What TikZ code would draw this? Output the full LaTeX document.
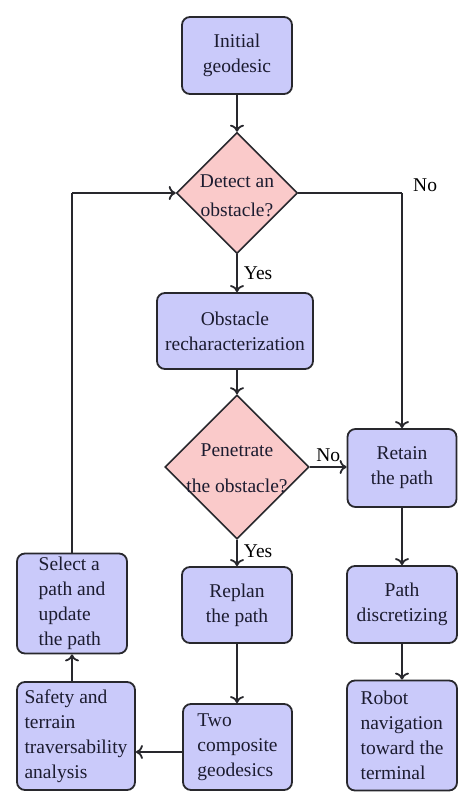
\documentclass[tikz,border=0pt]{standalone}
\usepackage{fontspec}
\newfontfamily\diagfont{Liberation Serif}
\usetikzlibrary{shapes.geometric,arrows.meta}
\definecolor{boxfill}{RGB}{202,202,250}
\definecolor{decfill}{RGB}{250,202,202}
\definecolor{edge}{RGB}{40,40,45}
\definecolor{txt}{RGB}{28,28,48}
\tikzset{
  every node/.style={font=\diagfont\fontsize{19.5}{25}\selectfont, text=txt},
  procbox/.style={draw=edge, line width=1.8pt, fill=boxfill, rounded corners=8pt, inner sep=0pt},
  decbox/.style={draw=edge, line width=1.6pt, fill=decfill, diamond, inner sep=0pt},
  conn/.style={draw=edge, line width=1.8pt, -{To[length=7pt,width=14pt]}},
  plain/.style={draw=edge, line width=1.8pt},
  lbl/.style={text=black, inner sep=0pt}
}
\begin{document}
\begin{tikzpicture}[x=1pt,y=-1pt]
\useasboundingbox (0,0) rectangle (474,808);
\node[procbox, minimum width=110pt, minimum height=77pt, align=center] (init) at (237,55.5) {Initial\\geodesic};
\node[decbox, minimum width=121pt, minimum height=121pt] (det) at (237,193) {};
\node[align=center, inner sep=0pt] (dett) at (237,195.5) {Detect an\\[4pt]obstacle?};
\node[procbox, minimum width=156pt, minimum height=76pt, align=center] (obs) at (235,331) {Obstacle\\recharacterization};
\node[decbox, minimum width=144pt, minimum height=144pt] (pen) at (237,467) {};
\node[align=center, inner sep=0pt] (pent) at (237,468) {Penetrate\\[11pt]the obstacle?};
\node[procbox, minimum width=109pt, minimum height=78pt, align=center] (ret) at (402,468) {Retain\\the path};
\node[procbox, minimum width=110pt, minimum height=76pt, align=center] (rep) at (237,605) {Replan\\the path};
\node[procbox, minimum width=110pt, minimum height=77pt, align=center] (disc) at (402,604.5) {Path\\discretizing};
\node[procbox, minimum width=110pt, minimum height=100pt, align=left] (sel) at (72,603.5) {Select a\\path and\\update\\the path};
\node[procbox, minimum width=118pt, minimum height=108pt, align=left] (saf) at (76,736) {Safety and\\terrain\\traversability\\analysis};
\node[procbox, minimum width=109pt, minimum height=86pt, align=left] (two) at (237.5,747) {Two\\composite\\geodesics};
\node[procbox, minimum width=110pt, minimum height=110pt, align=left] (rob) at (402,735.5) {Robot\\navigation\\toward the\\terminal};
\coordinate (nocorner) at (det.east -| ret.north);
\coordinate (loopcorner) at (sel.north |- det.west);
\draw[conn] (init.south) -- (det.north);
\draw[conn] (det.south) -- (det.south |- obs.north) node[lbl, midway, right=6pt] (yes1) {Yes};
\draw[conn] (obs.south -| pen.north) -- (pen.north);
\draw[plain] (det.east) -- (nocorner);
\draw[conn] (nocorner) -- (ret.north);
\node[lbl, anchor=south west] (no1) at ([xshift=11pt,yshift=1pt]nocorner) {No};
\draw[conn] (pen.east) -- (pen.east -| ret.west) node[lbl, midway, above=4pt] (no2) {No};
\draw[conn] (pen.south) -- (pen.south |- rep.north) node[lbl, pos=0.45, right=6pt] (yes2) {Yes};
\draw[conn] (ret.south) -- (disc.north);
\draw[conn] (disc.south) -- (rob.north);
\draw[conn] (rep.south) -- (rep.south |- two.north);
\draw[conn] ([yshift=-5pt]two.west) -- ([yshift=-5pt]two.west -| saf.east);
\draw[conn] (saf.north -| sel.south) -- (sel.south);
\draw[plain] (sel.north) -- (loopcorner);
\draw[conn] (loopcorner) -- (det.west);
\end{tikzpicture}
\end{document}
